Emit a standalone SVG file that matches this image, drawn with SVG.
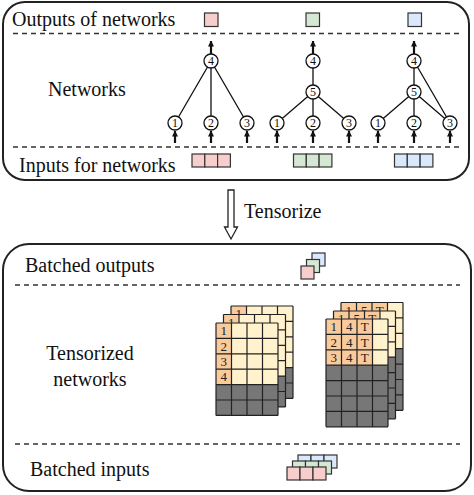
<svg xmlns="http://www.w3.org/2000/svg" xmlns:xlink="http://www.w3.org/1999/xlink" width="474" height="495" viewBox="0 0 474 495">
<style>
  .panel{fill:#fff;stroke:#222;stroke-width:2}
  .dash{stroke:#333;stroke-width:1.3;stroke-dasharray:5,4;fill:none}
  .lbl{font-family:"Liberation Serif","Times New Roman",serif;font-size:20px;fill:#111}
  .num{font-family:"Liberation Serif","Times New Roman",serif;font-size:12px;fill:#111;text-anchor:middle}
  .cell{font-family:"Liberation Serif","Times New Roman",serif;font-size:13px;fill:#222;text-anchor:middle}
  .edge{stroke:#111;stroke-width:1.3;fill:none}
  .node{fill:#fff;stroke:#111;stroke-width:1.3}
  .arr{stroke:#111;stroke-width:2.2;fill:none;marker-end:url(#ah)}
  .box{stroke:#333;stroke-width:1.2}
  .pink{fill:#f8cecc}.green{fill:#d5e8d4}.blue{fill:#dae8fc}
  .grid{stroke:#222;stroke-width:1.2;fill:none}
</style>
<defs>
  <marker id="ah" viewBox="0 0 6 6" refX="5.5" refY="3" markerWidth="6" markerHeight="6" markerUnits="userSpaceOnUse" orient="auto">
    <path d="M0,0 L6,3 L0,6 z" fill="#111"/>
  </marker>
  <g id="layerA">
    <rect x="0" y="0" width="15.5" height="61.6" fill="#f9cb9c"/>
    <rect x="15.5" y="0" width="46.5" height="61.6" fill="#fff2cc"/>
    <rect x="0" y="61.6" width="62" height="30.8" fill="#777"/>
    <path class="grid" d="M0,0H62M0,15.4H62M0,30.8H62M0,46.2H62M0,61.6H62M0,77H62M0,92.4H62M0,0V92.4M15.5,0V92.4M31,0V92.4M46.5,0V92.4M62,0V92.4"/>
  </g>
  <g id="layerB">
    <rect x="0" y="0" width="46.5" height="46.2" fill="#f9cb9c"/>
    <rect x="46.5" y="0" width="15.5" height="46.2" fill="#fff2cc"/>
    <rect x="0" y="46.2" width="62" height="61.6" fill="#777"/>
    <path class="grid" d="M0,0H62M0,15.4H62M0,30.8H62M0,46.2H62M0,61.6H62M0,77H62M0,92.4H62M0,107.8H62M0,0V107.8M15.5,0V107.8M31,0V107.8M46.5,0V107.8M62,0V107.8"/>
  </g>
</defs>

<!-- Top panel -->
<g id="top-panel">
  <rect class="panel" x="3" y="2" width="466" height="178" rx="22" ry="22"/>
  <path class="dash" d="M13,33.5H460M13,147H460"/>
  <text class="lbl" x="12" y="26">Outputs of networks</text>
  <text class="lbl" x="48" y="96">Networks</text>
  <text class="lbl" x="19" y="172">Inputs for networks</text>
</g>

<g id="outputs">
  <rect class="box pink" x="204.5" y="13" width="13.5" height="13.5"/>
  <rect class="box green" x="306" y="13" width="13.5" height="13.5"/>
  <rect class="box blue" x="408" y="13" width="13.5" height="13.5"/>
</g>

<g id="inputs">
  <g id="input-pink">
    <rect class="box pink" x="192" y="154" width="12.8" height="13"/>
    <rect class="box pink" x="204.8" y="154" width="12.8" height="13"/>
    <rect class="box pink" x="217.6" y="154" width="12.8" height="13"/>
  </g>
  <g id="input-green">
    <rect class="box green" x="293.5" y="154" width="12.8" height="13"/>
    <rect class="box green" x="306.3" y="154" width="12.8" height="13"/>
    <rect class="box green" x="319.1" y="154" width="12.8" height="13"/>
  </g>
  <g id="input-blue">
    <rect class="box blue" x="394.5" y="154" width="12.8" height="13"/>
    <rect class="box blue" x="407.3" y="154" width="12.8" height="13"/>
    <rect class="box blue" x="420.1" y="154" width="12.8" height="13"/>
  </g>
</g>

<g id="connectors">
  <!-- network 1 -->
  <path class="edge" d="M211,61L175,123M211,61L211,123M211,61L247,123"/>
  <!-- network 2 -->
  <path class="edge" d="M313,61L313,92M313,92L277,123M313,92L313,123M313,92L349,123"/>
  <!-- network 3 -->
  <path class="edge" d="M414,61L414,92M414,92L378,123M414,92L414,123M414,92L450,123M414,61L450,123"/>
  <!-- output arrows -->
  <path class="arr" d="M211,54V41"/>
  <path class="arr" d="M313,54V41"/>
  <path class="arr" d="M414,54V41"/>
  <!-- input arrows -->
  <path class="arr" d="M175,143V131"/>
  <path class="arr" d="M211,143V131"/>
  <path class="arr" d="M247,143V131"/>
  <path class="arr" d="M277,143V131"/>
  <path class="arr" d="M313,143V131"/>
  <path class="arr" d="M349,143V131"/>
  <path class="arr" d="M378,143V131"/>
  <path class="arr" d="M414,143V131"/>
  <path class="arr" d="M450,143V131"/>
  <!-- bottom panel arrows -->
  <path class="arr" d="M313,305V294"/>
  <path class="arr" d="M313,440V427"/>
  <!-- tensorize arrow -->
  <path d="M228,190H234V227H237.5L231,239L224.5,227H228Z" fill="#fff" stroke="#222" stroke-width="1.3"/>
</g>

<g id="net1">
  <g id="n1-4"><circle class="node" cx="211" cy="61" r="7"/><text class="num" x="211" y="65">4</text></g>
  <g id="n1-1"><circle class="node" cx="175" cy="123" r="7"/><text class="num" x="175" y="127">1</text></g>
  <g id="n1-2"><circle class="node" cx="211" cy="123" r="7"/><text class="num" x="211" y="127">2</text></g>
  <g id="n1-3"><circle class="node" cx="247" cy="123" r="7"/><text class="num" x="247" y="127">3</text></g>
</g>
<g id="net2">
  <g id="n2-4"><circle class="node" cx="313" cy="61" r="7"/><text class="num" x="313" y="65">4</text></g>
  <g id="n2-5"><circle class="node" cx="313" cy="92" r="7"/><text class="num" x="313" y="96">5</text></g>
  <g id="n2-1"><circle class="node" cx="277" cy="123" r="7"/><text class="num" x="277" y="127">1</text></g>
  <g id="n2-2"><circle class="node" cx="313" cy="123" r="7"/><text class="num" x="313" y="127">2</text></g>
  <g id="n2-3"><circle class="node" cx="349" cy="123" r="7"/><text class="num" x="349" y="127">3</text></g>
</g>
<g id="net3">
  <g id="n3-4"><circle class="node" cx="414" cy="61" r="7"/><text class="num" x="414" y="65">4</text></g>
  <g id="n3-5"><circle class="node" cx="414" cy="92" r="7"/><text class="num" x="414" y="96">5</text></g>
  <g id="n3-1"><circle class="node" cx="378" cy="123" r="7"/><text class="num" x="378" y="127">1</text></g>
  <g id="n3-2"><circle class="node" cx="414" cy="123" r="7"/><text class="num" x="414" y="127">2</text></g>
  <g id="n3-3"><circle class="node" cx="450" cy="123" r="7"/><text class="num" x="450" y="127">3</text></g>
</g>

<g id="tensorize-label">
  <text class="lbl" x="244" y="218">Tensorize</text>
</g>

<!-- Bottom panel -->
<g id="bottom-panel">
  <rect class="panel" x="3" y="244" width="468" height="247" rx="26" ry="26"/>
  <path class="dash" d="M15,285H460M15,444H460"/>
  <text class="lbl" x="25" y="272">Batched outputs</text>
  <text class="lbl" x="90" y="360" text-anchor="middle">Tensorized</text>
  <text class="lbl" x="90" y="386" text-anchor="middle">networks</text>
  <text class="lbl" x="30" y="476">Batched inputs</text>
</g>

<g id="batched-outputs">
  <rect class="box blue" x="312" y="253" width="13" height="13"/>
  <rect class="box green" x="306.5" y="259.5" width="13" height="13"/>
  <rect class="box pink" x="301" y="266" width="13" height="13"/>
</g>

<g id="batched-inputs">
  <g id="bi-blue">
    <rect class="box blue" x="298" y="455" width="13" height="13"/>
    <rect class="box blue" x="311" y="455" width="13" height="13"/>
    <rect class="box blue" x="324" y="455" width="13" height="13"/>
  </g>
  <g id="bi-green">
    <rect class="box green" x="292.5" y="461" width="13" height="13"/>
    <rect class="box green" x="305.5" y="461" width="13" height="13"/>
    <rect class="box green" x="318.5" y="461" width="13" height="13"/>
  </g>
  <g id="bi-pink">
    <rect class="box pink" x="287" y="467" width="13" height="13"/>
    <rect class="box pink" x="300" y="467" width="13" height="13"/>
    <rect class="box pink" x="313" y="467" width="13" height="13"/>
  </g>
</g>

<g id="tensor-A">
  <use xlink:href="#layerA" href="#layerA" x="231" y="306"/>
  <text class="cell" x="238.75" y="318.2">1</text>
  <use xlink:href="#layerA" href="#layerA" x="223.5" y="314.5"/>
  <text class="cell" x="231.25" y="326.7">1</text>
  <use xlink:href="#layerA" href="#layerA" x="216" y="323"/>
  <text class="cell" x="223.75" y="335.2">1</text>
  <text class="cell" x="223.75" y="350.6">2</text>
  <text class="cell" x="223.75" y="366">3</text>
  <text class="cell" x="223.75" y="381.4">4</text>
</g>

<g id="tensor-B">
  <use xlink:href="#layerB" href="#layerB" x="341" y="302.5"/>
  <text class="cell" x="348.75" y="314.7">1</text>
  <text class="cell" x="364.25" y="314.7">5</text>
  <text class="cell" x="379.75" y="314.7">T</text>
  <use xlink:href="#layerB" href="#layerB" x="333.5" y="311"/>
  <text class="cell" x="341.25" y="323.2">1</text>
  <text class="cell" x="356.75" y="323.2">5</text>
  <text class="cell" x="372.25" y="323.2">T</text>
  <use xlink:href="#layerB" href="#layerB" x="326" y="319"/>
  <text class="cell" x="333.75" y="331.2">1</text>
  <text class="cell" x="349.25" y="331.2">4</text>
  <text class="cell" x="364.75" y="331.2">T</text>
  <text class="cell" x="333.75" y="346.6">2</text>
  <text class="cell" x="349.25" y="346.6">4</text>
  <text class="cell" x="364.75" y="346.6">T</text>
  <text class="cell" x="333.75" y="362">3</text>
  <text class="cell" x="349.25" y="362">4</text>
  <text class="cell" x="364.75" y="362">T</text>
</g>
</svg>
